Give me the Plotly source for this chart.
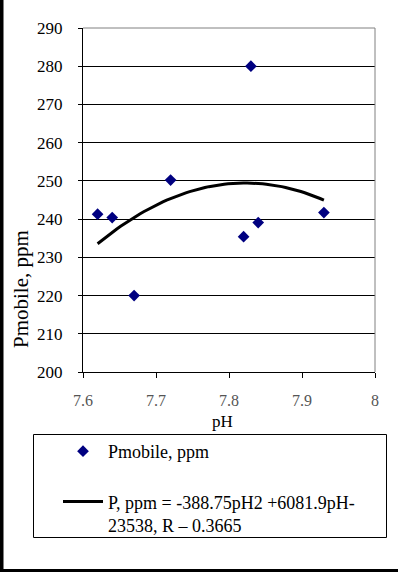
import numpy as np
import plotly.graph_objects as go

# ---- data ----
ph = [7.62, 7.64, 7.67, 7.72, 7.82, 7.83, 7.84, 7.93]
p_mobile = [241.3, 240.4, 220.0, 250.2, 235.4, 280.0, 239.1, 241.7]
trend_coef = [-388.75, 6081.9, -23538.0]   # from the chart's trend equation
x_ticks = [7.6, 7.7, 7.8, 7.9, 8.0]
x_tick_labels = ["7.6", "7.7", "7.8", "7.9", "8"]
y_ticks = list(range(200, 300, 10))
series_name = "Pmobile, ppm"
trend_name = "P, ppm = -388.75pH2 +6081.9pH-<br>23538, R – 0.3665"

W, H = 398, 572
L, R, T, B = 83, 375, 28, 372


def px(x):
    return (x - L) / (R - L)


def py(y):
    return (B - y) / (B - T)


FONT = "Liberation Serif"

xs = np.linspace(min(ph), max(ph), 60)
ys = np.polyval(trend_coef, xs)

fig = go.Figure()
fig.add_trace(go.Scatter(
    x=ph, y=p_mobile, mode="markers", name=series_name,
    marker=dict(symbol="diamond", size=9, color="#000080"),
    legendgroup="a",
))
fig.add_trace(go.Scatter(
    x=xs, y=ys, mode="lines", name=trend_name,
    line=dict(color="black", width=3),
    legendgroup="b",
))

fig.update_layout(
    width=W, height=H,
    margin=dict(l=L, r=W - R, t=T, b=H - B, pad=0),
    paper_bgcolor="white", plot_bgcolor="white",
    font=dict(family=FONT, size=16, color="black"),
    showlegend=True,
    legend=dict(
        x=px(58), y=py(433), xanchor="left", yanchor="top",
        bgcolor="rgba(0,0,0,0)", borderwidth=0,
        itemwidth=40, tracegroupgap=24, valign="top",
        font=dict(family=FONT, size=18, color="black"),
    ),
    xaxis=dict(
        range=[7.6, 8.0], tickvals=x_ticks, ticktext=x_tick_labels,
        showgrid=False, zeroline=False,
        showline=True, linecolor="black", linewidth=1,
        ticks="outside", ticklen=5, tickcolor="black",
        tickfont=dict(family=FONT, size=16, color="#555555"),
        ticklabelstandoff=9,
        mirror=False,
    ),
    yaxis=dict(
        range=[200, 290], tickvals=y_ticks,
        showgrid=True, gridcolor="black", gridwidth=1,
        zeroline=False,
        showline=True, linecolor="black", linewidth=1,
        ticks="outside", ticklen=4, tickcolor="black",
        tickfont=dict(family=FONT, size=17, color="black"),
        ticklabelstandoff=12,
    ),
    shapes=[
        # top & right plot border (gray)
        dict(type="line", xref="paper", yref="paper", x0=0, x1=1, y0=1, y1=1,
             line=dict(color="#808080", width=1)),
        dict(type="line", xref="paper", yref="paper", x0=1, x1=1, y0=0, y1=1,
             line=dict(color="#808080", width=1)),
        # legend box
        dict(type="rect", xref="paper", yref="paper",
             x0=px(33.5), x1=px(386.5), y0=py(537.5), y1=py(434.5),
             line=dict(color="black", width=1), layer="below"),
        # outer black frame (left & bottom)
        dict(type="rect", xref="paper", yref="paper",
             x0=px(-2), x1=px(3.5), y0=py(575), y1=py(-2),
             line=dict(width=0), fillcolor="black"),
        dict(type="rect", xref="paper", yref="paper",
             x0=px(-2), x1=px(400), y0=py(575), y1=py(569),
             line=dict(width=0), fillcolor="black"),
    ],
    annotations=[
        dict(text="pH", xref="paper", yref="paper", x=px(222), y=py(421),
             xanchor="center", yanchor="middle", showarrow=False,
             font=dict(family=FONT, size=17, color="black")),
        dict(text="Pmobile, ppm", xref="paper", yref="paper", x=px(21), y=py(289),
             xanchor="center", yanchor="middle", showarrow=False, textangle=-90,
             font=dict(family=FONT, size=21, color="black")),
    ],
)

fig.write_html(
    "out.html",
    config={"displayModeBar": False},
    post_script="document.body.style.margin='0';document.body.style.overflow='hidden';",
)
